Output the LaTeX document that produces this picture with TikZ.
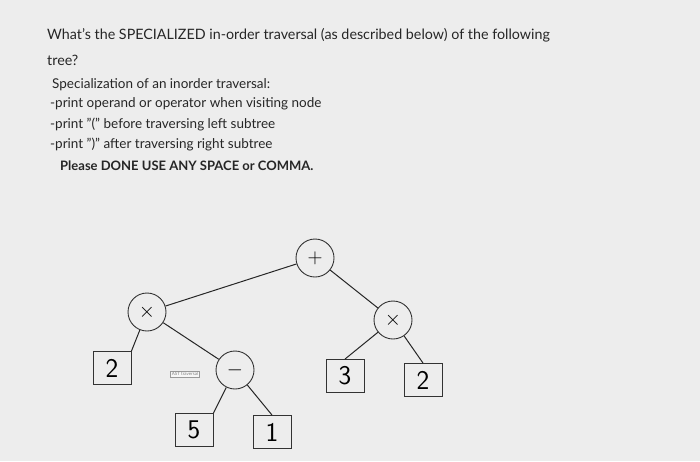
\documentclass[tikz,border=0pt]{standalone}
\usepackage{fontspec}
\setmainfont{Lato}
\begin{document}
\begin{tikzpicture}[x=1pt,y=-1pt,
  op/.style={circle,draw=black!80,line width=0.9pt,minimum size=38pt,inner sep=0pt,font=\fontsize{22}{22}\selectfont},
  leaf/.style={rectangle,draw=black!80,line width=0.9pt,minimum width=38pt,minimum height=33pt,inner sep=0pt,font=\fontsize{27}{27}\selectfont\sffamily},
  edge/.style={draw=black!85,line width=1pt},
  txt/.style={anchor=west,inner sep=0pt,font=\fontsize{14.3}{16}\selectfont,text=black!85}]
\fill[black!7] (0,0) rectangle (700,461);
\useasboundingbox (0,0) rectangle (700,461);
\node[txt] (t1) at (47,35) {What's the SPECIALIZED in-order traversal (as described below) of the following};
\node[txt] (t2) at (47,60) {tree?};
\node[txt,font=\fontsize{13.5}{16}\selectfont] (t3) at (52,85) {Specialization of an inorder traversal:};
\node[txt,font=\fontsize{13.5}{16}\selectfont] (t4) at (50,104) {-print operand or operator when visiting node};
\node[txt,font=\fontsize{13.5}{16}\selectfont] (t5) at (50,124) {-print "(" before traversing left subtree};
\node[txt,font=\fontsize{13.5}{16}\selectfont] (t6) at (50,144) {-print ")" after traversing right subtree};
\node[txt,font=\fontsize{13}{16}\selectfont\bfseries] (t7) at (60,166) {Please DONE USE ANY SPACE or COMMA.};
\node[op] (p) at (315,258) {$+$};
\node[op] (m1) at (147,312) {$\times$};
\node[op] (m2) at (393,320) {$\times$};
\node[op] (mi) at (235,370) {$-$};
\node[leaf] (a) at (112,368) {2};
\node[leaf] (b) at (194,430) {5};
\node[leaf] (c) at (272,432) {1};
\node[leaf] (d) at (345,376) {3};
\node[leaf] (e) at (423,380) {2};
\draw[edge] (p) -- (m1);
\draw[edge] (p) -- (m2);
\draw[edge] (m1) -- (a.north east);
\draw[edge] (m1) -- (mi);
\draw[edge] (mi) -- (b.north east);
\draw[edge] (mi) -- (c.north);
\draw[edge] (m2) -- (d.north);
\draw[edge] (m2) -- (e.north);
\node[draw=black!40,fill=black!3,inner sep=1.5pt,font=\fontsize{4.5}{4.5}\selectfont,text=black!50] (tip) at (185,374) {AST traversal};
\end{tikzpicture}
\end{document}
